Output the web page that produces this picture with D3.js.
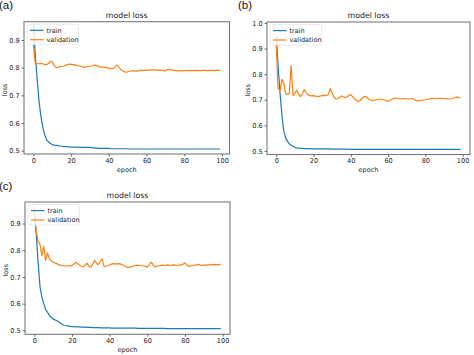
<!DOCTYPE html>
<html>
<head>
<meta charset="utf-8">
<script src="https://cdn.jsdelivr.net/npm/d3@7"></script>
<style>
html,body{margin:0;padding:0;background:#fff;overflow:hidden;}
svg{display:block;}
</style>
</head>
<body>
<svg id="chart" width="474" height="355"></svg>
<script>
// ---------- data ----------
const epochs = d3.range(0, 100);
const xTickValues = [0, 20, 40, 60, 80, 100];
const yTicksA = [0.5, 0.6, 0.7, 0.8, 0.9];
const yTicksB = [0.5, 0.6, 0.7, 0.8, 0.9, 1.0];
const yTicksC = [0.5, 0.6, 0.7, 0.8, 0.9];
const seriesNames = ["train", "validation"];
const panelLabels = ["(a)", "(b)", "(c)"];
const titleText = "model loss";
const xLabel = "epoch";
const yLabel = "loss";

const trainA = [
0.955,0.850,0.760,0.680,0.625,0.585,0.558,0.540,0.532,0.526,
0.522,0.520,0.519,0.518,0.517,0.516,0.515,0.515,0.514,0.514,
0.513,0.513,0.513,0.513,0.512,0.512,0.512,0.512,0.512,0.512,
0.512,0.511,0.510,0.509,0.509,0.508,0.508,0.508,0.508,0.508,
0.508,0.507,0.507,0.507,0.507,0.507,0.507,0.507,0.507,0.507,
0.507,0.506,0.506,0.506,0.506,0.506,0.506,0.506,0.506,0.506,
0.506,0.506,0.506,0.506,0.506,0.506,0.506,0.506,0.506,0.506,
0.506,0.506,0.506,0.506,0.506,0.506,0.506,0.506,0.506,0.506,
0.506,0.506,0.506,0.506,0.506,0.506,0.506,0.506,0.506,0.506,
0.506,0.506,0.506,0.506,0.506,0.506,0.506,0.506,0.506,0.506];
const valA = [
0.883,0.818,0.814,0.814,0.815,0.814,0.812,0.811,0.815,0.823,
0.822,0.808,0.800,0.801,0.803,0.805,0.806,0.808,0.811,0.813,
0.812,0.811,0.810,0.808,0.806,0.805,0.803,0.802,0.803,0.805,
0.805,0.806,0.808,0.809,0.806,0.803,0.802,0.802,0.801,0.800,
0.798,0.797,0.796,0.800,0.809,0.805,0.796,0.790,0.786,0.784,
0.785,0.787,0.788,0.788,0.788,0.787,0.789,0.790,0.790,0.790,
0.791,0.791,0.792,0.792,0.792,0.791,0.791,0.790,0.790,0.789,
0.788,0.793,0.795,0.793,0.791,0.789,0.789,0.788,0.788,0.788,
0.789,0.789,0.789,0.790,0.789,0.789,0.790,0.789,0.789,0.789,
0.790,0.790,0.789,0.789,0.790,0.790,0.789,0.790,0.790,0.790];
const trainB = [
0.950,0.830,0.730,0.645,0.580,0.552,0.538,0.528,0.522,0.518,
0.514,0.512,0.511,0.510,0.510,0.509,0.509,0.509,0.509,0.508,
0.508,0.508,0.508,0.508,0.508,0.508,0.508,0.508,0.508,0.508,
0.507,0.507,0.507,0.507,0.507,0.507,0.507,0.507,0.507,0.507,
0.506,0.506,0.506,0.506,0.506,0.506,0.506,0.506,0.506,0.506,
0.506,0.506,0.506,0.506,0.506,0.506,0.506,0.506,0.506,0.506,
0.506,0.506,0.506,0.506,0.506,0.506,0.506,0.506,0.506,0.506,
0.506,0.506,0.506,0.506,0.506,0.506,0.506,0.506,0.506,0.506,
0.506,0.506,0.506,0.506,0.506,0.506,0.506,0.506,0.506,0.506,
0.506,0.506,0.506,0.506,0.506,0.506,0.506,0.506,0.506,0.506];
const valB = [
0.920,0.745,0.735,0.780,0.768,0.724,0.722,0.723,0.834,0.716,
0.725,0.738,0.722,0.712,0.722,0.740,0.728,0.720,0.716,0.715,
0.716,0.714,0.713,0.713,0.715,0.717,0.716,0.717,0.722,0.744,
0.725,0.710,0.703,0.705,0.710,0.715,0.712,0.708,0.712,0.717,
0.720,0.712,0.703,0.698,0.693,0.697,0.705,0.712,0.713,0.707,
0.701,0.697,0.696,0.699,0.701,0.702,0.702,0.701,0.699,0.697,
0.694,0.697,0.701,0.704,0.707,0.705,0.704,0.703,0.704,0.705,
0.704,0.703,0.704,0.705,0.700,0.697,0.697,0.697,0.698,0.699,
0.700,0.701,0.703,0.705,0.706,0.705,0.704,0.705,0.706,0.705,
0.704,0.705,0.704,0.703,0.704,0.706,0.708,0.710,0.709,0.707];
const trainC = [
0.935,0.865,0.755,0.665,0.625,0.600,0.578,0.568,0.556,0.548,
0.542,0.539,0.536,0.532,0.526,0.521,0.518,0.517,0.516,0.515,
0.514,0.514,0.513,0.513,0.513,0.512,0.512,0.512,0.511,0.511,
0.511,0.510,0.510,0.510,0.510,0.509,0.509,0.509,0.509,0.509,
0.509,0.508,0.508,0.508,0.508,0.508,0.508,0.508,0.508,0.508,
0.508,0.508,0.508,0.508,0.508,0.507,0.507,0.507,0.507,0.507,
0.507,0.507,0.507,0.507,0.507,0.507,0.507,0.507,0.507,0.507,
0.506,0.506,0.506,0.506,0.506,0.506,0.506,0.506,0.506,0.506,
0.506,0.506,0.506,0.506,0.506,0.506,0.506,0.506,0.506,0.506,
0.506,0.506,0.506,0.506,0.506,0.506,0.506,0.506,0.506,0.506];
const valC = [
0.965,0.870,0.835,0.822,0.780,0.815,0.762,0.790,0.768,0.760,
0.756,0.752,0.750,0.746,0.744,0.743,0.742,0.741,0.741,0.743,
0.742,0.748,0.755,0.750,0.744,0.740,0.738,0.745,0.752,0.740,
0.736,0.748,0.762,0.752,0.746,0.758,0.768,0.740,0.740,0.742,
0.745,0.748,0.750,0.748,0.749,0.750,0.748,0.745,0.741,0.737,
0.735,0.738,0.740,0.742,0.743,0.744,0.743,0.742,0.741,0.740,
0.737,0.745,0.756,0.746,0.738,0.740,0.742,0.743,0.744,0.743,
0.744,0.745,0.743,0.744,0.745,0.744,0.743,0.744,0.745,0.748,
0.753,0.745,0.740,0.741,0.742,0.743,0.745,0.747,0.745,0.743,
0.744,0.744,0.745,0.745,0.746,0.747,0.746,0.745,0.747,0.746];

// ---------- layout ----------
const colors = ["#1f77b4", "#ff7f0e"];
const xDomain = [-4.95, 103.95];
const panels = [
  {label: panelLabels[0], train: trainA, val: valA, yTicks: yTicksA,
   box: {l: 24, t: 21.7, r: 229.5, b: 154}, yDomain: [0.488, 0.966], lab: {x: -1, y: 8.5}},
  {label: panelLabels[1], train: trainB, val: valB, yTicks: yTicksB,
   box: {l: 267, t: 22, r: 470, b: 154.5}, yDomain: [0.486, 1.004], lab: {x: 238, y: 9}},
  {label: panelLabels[2], train: trainC, val: valC, yTicks: yTicksC,
   box: {l: 25, t: 202, r: 230, b: 334.3}, yDomain: [0.485, 0.981], lab: {x: -1, y: 189.5}}
];

const svg = d3.select("#chart");
const FONT = "'DejaVu Sans', sans-serif";
const TXT = "#222";

panels.forEach((p, pi) => {
  const bx = p.box;
  const x = d3.scaleLinear().domain(xDomain).range([bx.l, bx.r]);
  const y = d3.scaleLinear().domain(p.yDomain).range([bx.b, bx.t]);
  const g = svg.append("g");
  const clipId = "clip" + pi;
  svg.append("clipPath").attr("id", clipId).append("rect")
    .attr("x", bx.l).attr("y", bx.t).attr("width", bx.r - bx.l).attr("height", bx.b - bx.t);

  // lines
  const line = d3.line().x((d, i) => x(epochs[i])).y(d => y(d));
  [p.train, p.val].forEach((s, si) => {
    g.append("path").datum(s)
      .attr("clip-path", `url(#${clipId})`)
      .attr("fill", "none").attr("stroke", colors[si])
      .attr("stroke-width", 1.2).attr("stroke-linejoin", "round")
      .attr("d", line);
  });

  // frame
  g.append("rect").attr("x", bx.l).attr("y", bx.t)
    .attr("width", bx.r - bx.l).attr("height", bx.b - bx.t)
    .attr("fill", "none").attr("stroke", "#7a7a7a").attr("stroke-width", 1.1);

  // axes
  const xAxis = d3.axisBottom(x).tickValues(xTickValues).tickSize(2.5).tickPadding(1.5).tickFormat(d3.format("d"));
  const ga = g.append("g").attr("transform", `translate(0,${bx.b})`).call(xAxis);
  const yAxis = d3.axisLeft(y).tickValues(p.yTicks).tickSize(2.5).tickPadding(1.8).tickFormat(d3.format(".1f"));
  const gb = g.append("g").attr("transform", `translate(${bx.l},0)`).call(yAxis);
  [ga, gb].forEach(a => {
    a.select(".domain").remove();
    a.selectAll(".tick line").attr("stroke", "#333").attr("stroke-width", 0.7);
    a.selectAll(".tick text").attr("fill", TXT).style("font-family", FONT).style("font-size", "6.6px");
  });

  // title & labels
  const cx = (bx.l + bx.r) / 2;
  g.append("text").attr("x", cx).attr("y", bx.t - 4).attr("text-anchor", "middle")
    .style("font-family", FONT).style("font-size", "7.8px").attr("fill", TXT).text(titleText);
  g.append("text").attr("x", cx).attr("y", bx.b + 17.5).attr("text-anchor", "middle")
    .style("font-family", FONT).style("font-size", "6.5px").attr("fill", TXT).text(xLabel);
  const ly = (bx.t + bx.b) / 2 + 2;
  g.append("text").attr("transform", `translate(${bx.l - 17},${ly}) rotate(-90)`)
    .attr("text-anchor", "middle")
    .style("font-family", FONT).style("font-size", "6.5px").attr("fill", TXT).text(yLabel);

  // legend
  const lg = g.append("g");
  lg.append("rect").attr("x", bx.l + 3).attr("y", bx.t + 2.5)
    .attr("width", 51.5).attr("height", 20.5).attr("rx", 1.5)
    .attr("fill", "#fff").attr("fill-opacity", 0.8).attr("stroke", "#ddd").attr("stroke-width", 0.6);
  seriesNames.forEach((n, i) => {
    const yy = bx.t + 8.6 + i * 9.4;
    lg.append("line").attr("x1", bx.l + 6).attr("x2", bx.l + 19.5)
      .attr("y1", yy).attr("y2", yy).attr("stroke", colors[i]).attr("stroke-width", 1.2);
    lg.append("text").attr("x", bx.l + 22.5).attr("y", yy).attr("dy", "0.35em")
      .style("font-family", FONT).style("font-size", "6.5px").attr("fill", TXT).text(n);
  });

  // panel label
  svg.append("text").attr("x", p.lab.x).attr("y", p.lab.y)
    .style("font-family", "'Liberation Sans', Arial, sans-serif").style("font-size", "11.5px")
    .attr("fill", "#111").text(p.label);
});
</script>
</body>
</html>
